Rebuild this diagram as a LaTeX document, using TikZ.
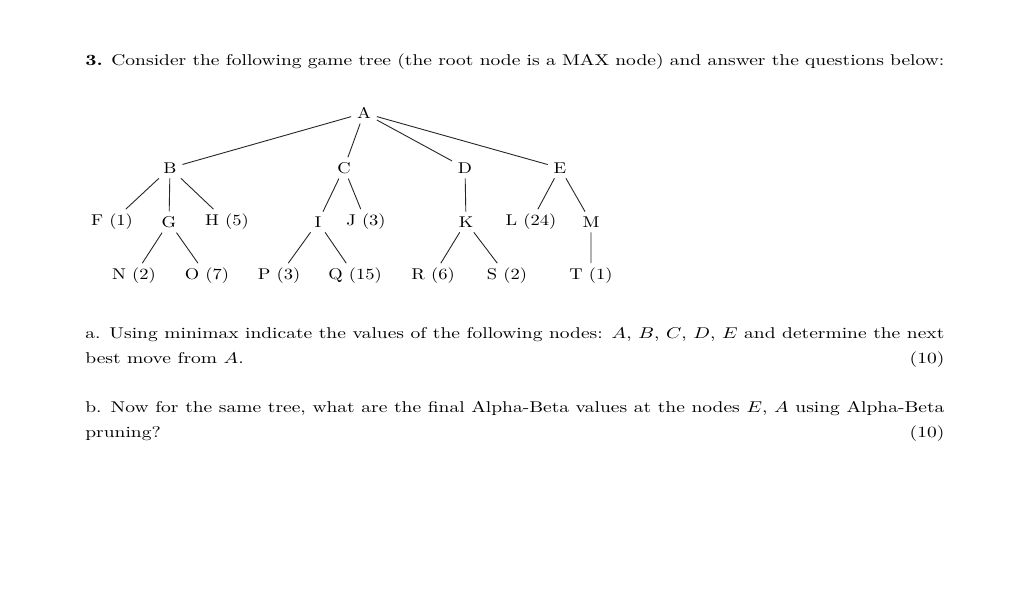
\documentclass[tikz,border=0pt]{standalone}
\begin{document}
\begin{tikzpicture}[x=1pt,y=-1pt,
  tn/.style={inner sep=3pt, xscale=1.85, yscale=1.56, transform shape},
  txt/.style={anchor=north west, inner sep=0pt, text width=440.5pt, align=justify, xscale=1.95, yscale=1.56, transform shape, execute at begin node={\setlength\baselineskip{16pt}}},
  edge/.style={line width=0.9pt, black!85}]
\useasboundingbox (0,0) rectangle (1009,604);
\node[txt, anchor=west] (title) at (85,62) {\textbf{3.} Consider the following game tree (the root node is a MAX node) and answer the questions below:};
\node[tn] (A) at (364,113) {A};
\node[tn] (B) at (170,168) {B};
\node[tn] (C) at (344,168) {C};
\node[tn] (D) at (465,168) {D};
\node[tn] (E) at (560,168) {E};
\node[tn] (F) at (112,222) {F (1)};
\node[tn] (G) at (169,222) {G};
\node[tn] (H) at (227,222) {H (5)};
\node[tn] (I) at (318,222) {I};
\node[tn] (J) at (366,222) {J (3)};
\node[tn] (K) at (466,222) {K};
\node[tn] (L) at (531,222) {L (24)};
\node[tn] (M) at (591,222) {M};
\node[tn] (N) at (134,276) {N (2)};
\node[tn] (O) at (207,276) {O (7)};
\node[tn] (P) at (279,276) {P (3)};
\node[tn] (Q) at (355,276) {Q (15)};
\node[tn] (R) at (433,276) {R (6)};
\node[tn] (S) at (507,276) {S (2)};
\node[tn] (T) at (591,276) {T (1)};
\foreach \p/\c in {A/B,A/C,A/D,A/E,B/F,B/G,B/H,C/I,C/J,D/K,E/L,E/M,G/N,G/O,I/P,I/Q,K/R,K/S,M/T}
  \draw[edge] (\p) -- (\c);
\node[txt] (qa) at (85,327) {a. Using minimax indicate the values of the following nodes: $A$, $B$, $C$, $D$, $E$ and determine the next best move from $A$.\hfill(10)};
\node[txt] (qb) at (85,401) {b. Now for the same tree, what are the final Alpha-Beta values at the nodes $E$, $A$ using Alpha-Beta pruning?\hfill(10)};
\end{tikzpicture}
\end{document}
